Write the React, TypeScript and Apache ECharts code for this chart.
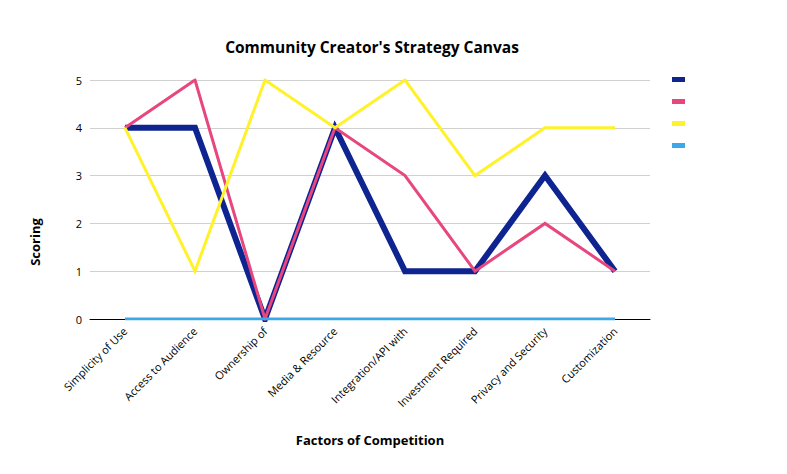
import React, { useEffect, useRef } from "react";
import * as echarts from "echarts";

const categories = [
  "Simplicity of Use",
  "Access to Audience",
  "Ownership of",
  "Media & Resource",
  "Integration/API with",
  "Investment Required",
  "Privacy and Security",
  "Customization",
];

const seriesA = [4, 4, 0, 4, 1, 1, 3, 1];
const seriesB = [4, 5, 0, 4, 3, 1, 2, 1];
const seriesC = [4, 1, 5, 4, 5, 3, 4, 4];
const seriesD = [0, 0, 0, 0, 0, 0, 0, 0];

const yTicks = [0, 1, 2, 3, 4, 5];

const FONT = "'Open Sans', 'Noto Sans', sans-serif";

export default function App() {
  const ref = useRef<HTMLDivElement>(null);

  useEffect(() => {
    if (!ref.current) return;
    const chart = echarts.init(ref.current, undefined, { renderer: "svg" });
    const mk = (name: string, data: number[], color: string, width: number) => ({
      name,
      type: "line",
      data,
      symbol: "none",
      lineStyle: { color, width, join: "miter" },
      itemStyle: { color },
    });
    chart.setOption({
      animation: false,
      backgroundColor: "#ffffff",
      textStyle: { fontFamily: FONT },
      legend: {
        orient: "vertical",
        left: 667,
        top: 72,
        icon: "rect",
        itemWidth: 13,
        itemHeight: 5,
        itemGap: 17,
        formatter: () => "",
        selectedMode: false,
        data: ["A", "B", "C", "D"],
      },
      grid: { left: 90, right: 137, top: 80, bottom: 155 },
      xAxis: {
        type: "category",
        data: categories,
        boundaryGap: true,
        axisLine: { lineStyle: { color: "#000", width: 1 } },
        axisTick: { show: false },
        axisLabel: {
          interval: 0,
          rotate: 45,
          fontSize: 11,
          color: "#000",
          fontFamily: FONT,
          margin: 10,
        },
      },
      yAxis: {
        type: "value",
        min: yTicks[0],
        max: yTicks[yTicks.length - 1],
        interval: 1,
        axisLine: { show: false },
        axisTick: { show: false },
        axisLabel: { fontSize: 11, color: "#000", fontFamily: FONT, margin: 8 },
        splitLine: { lineStyle: { color: "#d0d0d0", width: 1 } },
      },
      graphic: [
        {
          type: "text",
          x: 372,
          y: 47,
          style: {
            text: "Community Creator's Strategy Canvas",
            fontFamily: FONT,
            fontSize: 15.5,
            fontWeight: "bold",
            fill: "#000",
            align: "center",
            verticalAlign: "middle",
          },
        },
        {
          type: "text",
          x: 35,
          y: 242,
          rotation: Math.PI / 2,
          style: {
            text: "Scoring",
            fontFamily: FONT,
            fontSize: 13,
            fontWeight: "bold",
            fill: "#000",
            align: "center",
            verticalAlign: "middle",
          },
        },
        {
          type: "text",
          x: 370,
          y: 440,
          style: {
            text: "Factors of Competition",
            fontFamily: FONT,
            fontSize: 13,
            fontWeight: "bold",
            fill: "#000",
            align: "center",
            verticalAlign: "middle",
          },
        },
      ],
      series: [
        mk("A", seriesA, "#0e2490", 6),
        mk("B", seriesB, "#e8467f", 3),
        mk("C", seriesC, "#fff22a", 3),
        mk("D", seriesD, "#3da8e8", 3),
      ],
    });
    return () => chart.dispose();
  }, []);

  return (
    <div
      ref={ref}
      style={{ position: "absolute", left: 0, top: 0, width: 787, height: 474 }}
    />
  );
}
